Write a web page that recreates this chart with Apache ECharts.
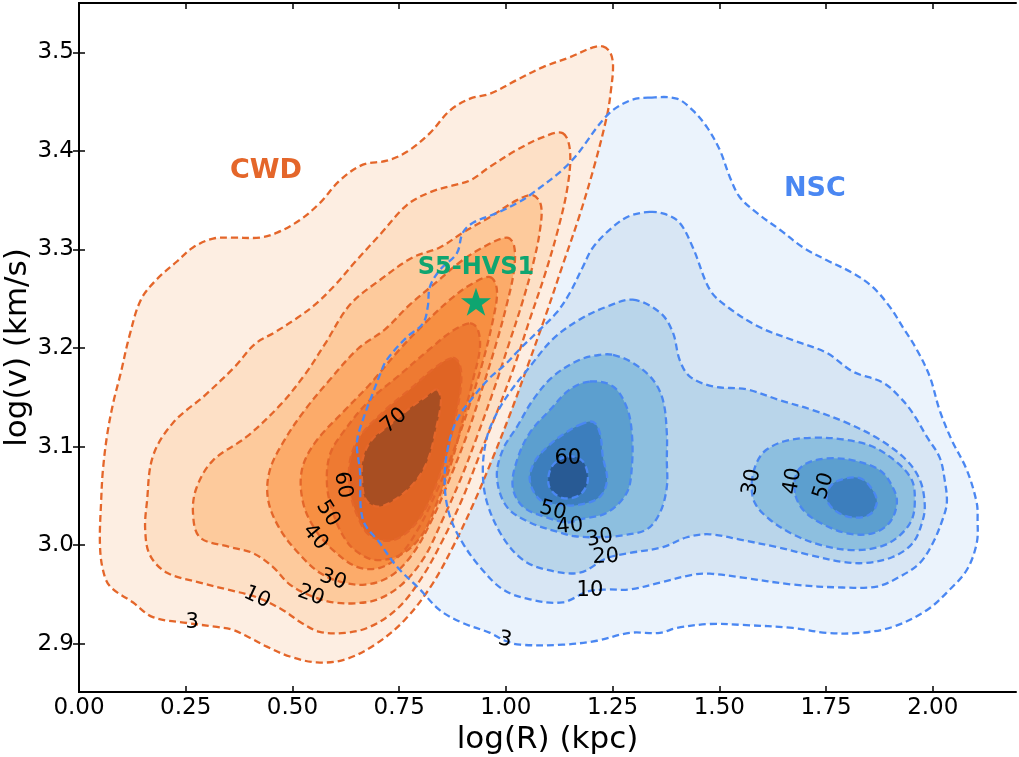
<!DOCTYPE html>
<html>
<head>
<meta charset="utf-8">
<script src="https://cdn.jsdelivr.net/npm/echarts@6/dist/echarts.min.js"></script>
<style>
html, body { margin: 0; padding: 0; background: #fff; }
#chart { width: 1019px; height: 757px; }
</style>
</head>
<body>
<div id="chart"></div>
<script>
// axis ticks
const xTicks = [0, 0.25, 0.5, 0.75, 1.0, 1.25, 1.5, 1.75, 2.0];
const yTicks = [2.9, 3.0, 3.1, 3.2, 3.3, 3.4, 3.5];

// CWD density contours, log(R) vs log(v)
const cwdLevels = ['3', '10', '20', '30', '40', '50', '60', '70'];
const cwd3 = [[1.227,3.506],[1.244,3.500],[1.251,3.487],[1.246,3.461],[1.237,3.436],[1.208,3.386],[1.173,3.335],[1.133,3.284],[1.094,3.234],[1.052,3.183],[1.009,3.132],[0.967,3.086],[0.923,3.041],[0.878,3.000],[0.827,2.960],[0.763,2.924],[0.693,2.899],[0.623,2.884],[0.557,2.881],[0.494,2.887],[0.440,2.897],[0.400,2.906],[0.361,2.914],[0.323,2.917],[0.253,2.921],[0.173,2.927],[0.126,2.942],[0.073,2.958],[0.056,2.975],[0.049,3.002],[0.052,3.046],[0.056,3.076],[0.066,3.112],[0.080,3.144],[0.098,3.175],[0.118,3.212],[0.145,3.249],[0.183,3.270],[0.230,3.288],[0.267,3.302],[0.314,3.311],[0.361,3.312],[0.424,3.312],[0.464,3.317],[0.518,3.330],[0.564,3.347],[0.611,3.370],[0.665,3.386],[0.721,3.390],[0.768,3.399],[0.822,3.418],[0.869,3.441],[0.916,3.453],[0.963,3.458],[1.026,3.472],[1.087,3.485],[1.150,3.495],[1.204,3.505]];
const cwd10 = [[1.133,3.418],[1.150,3.401],[1.145,3.365],[1.122,3.320],[1.091,3.274],[1.056,3.229],[1.021,3.183],[0.981,3.137],[0.939,3.092],[0.897,3.046],[0.852,3.005],[0.803,2.967],[0.747,2.936],[0.681,2.917],[0.623,2.911],[0.564,2.912],[0.518,2.922],[0.478,2.934],[0.417,2.947],[0.347,2.955],[0.283,2.962],[0.206,2.972],[0.166,2.990],[0.155,3.016],[0.159,3.043],[0.173,3.090],[0.220,3.124],[0.295,3.152],[0.365,3.181],[0.412,3.204],[0.459,3.216],[0.506,3.229],[0.553,3.244],[0.600,3.264],[0.646,3.287],[0.705,3.315],[0.768,3.345],[0.822,3.358],[0.876,3.365],[0.916,3.370],[0.963,3.384],[1.026,3.401],[1.087,3.414]];
const cwd20 = [[1.063,3.355],[1.082,3.345],[1.080,3.320],[1.063,3.284],[1.037,3.244],[1.007,3.204],[0.972,3.158],[0.934,3.112],[0.895,3.068],[0.852,3.026],[0.808,2.987],[0.756,2.960],[0.700,2.945],[0.646,2.941],[0.595,2.942],[0.546,2.948],[0.494,2.960],[0.454,2.978],[0.407,2.992],[0.354,2.998],[0.283,3.008],[0.267,3.033],[0.276,3.059],[0.314,3.086],[0.393,3.110],[0.471,3.142],[0.529,3.173],[0.576,3.204],[0.635,3.244],[0.705,3.269],[0.782,3.292],[0.845,3.302],[0.899,3.317],[0.963,3.333],[1.026,3.350]];
const cwd30 = [[1.002,3.312],[1.019,3.304],[1.019,3.279],[1.002,3.244],[0.977,3.204],[0.944,3.158],[0.909,3.112],[0.869,3.068],[0.827,3.026],[0.780,2.990],[0.728,2.968],[0.670,2.960],[0.611,2.963],[0.564,2.972],[0.518,2.990],[0.471,3.016],[0.443,3.046],[0.447,3.076],[0.482,3.107],[0.529,3.137],[0.588,3.168],[0.653,3.199],[0.717,3.219],[0.775,3.244],[0.838,3.267],[0.892,3.287],[0.946,3.302]];
const cwd40 = [[0.963,3.272],[0.979,3.259],[0.970,3.229],[0.944,3.183],[0.911,3.137],[0.874,3.092],[0.834,3.051],[0.794,3.016],[0.752,2.990],[0.705,2.977],[0.651,2.978],[0.595,2.995],[0.553,3.016],[0.525,3.043],[0.522,3.076],[0.553,3.104],[0.623,3.137],[0.681,3.163],[0.752,3.199],[0.810,3.225],[0.869,3.249],[0.916,3.264]];
const cwd50 = [[0.916,3.225],[0.934,3.219],[0.939,3.199],[0.923,3.168],[0.899,3.127],[0.874,3.086],[0.841,3.046],[0.803,3.010],[0.752,2.990],[0.693,2.985],[0.646,2.995],[0.618,3.010],[0.595,3.033],[0.581,3.061],[0.588,3.092],[0.623,3.117],[0.681,3.147],[0.752,3.173],[0.822,3.199],[0.874,3.217]];
const cwd60 = [[0.876,3.190],[0.892,3.183],[0.895,3.163],[0.883,3.132],[0.860,3.092],[0.827,3.051],[0.787,3.021],[0.735,3.005],[0.681,3.010],[0.651,3.031],[0.635,3.056],[0.635,3.086],[0.658,3.110],[0.717,3.137],[0.775,3.158],[0.834,3.180]];
const cwd70 = [[0.838,3.158],[0.848,3.147],[0.836,3.117],[0.817,3.086],[0.787,3.064],[0.740,3.046],[0.700,3.039],[0.672,3.046],[0.663,3.066],[0.665,3.088],[0.686,3.107],[0.728,3.122],[0.775,3.139],[0.817,3.152]];

// NSC density contours
const nscLevels = ['3', '10', '20', '30', '30', '40', '40', '50', '50', '60'];
const nsc3 = [[1.337,3.454],[1.400,3.453],[1.438,3.441],[1.471,3.424],[1.501,3.401],[1.525,3.373],[1.548,3.353],[1.588,3.337],[1.642,3.320],[1.696,3.302],[1.752,3.289],[1.813,3.276],[1.859,3.262],[1.899,3.242],[1.930,3.221],[1.963,3.198],[1.993,3.171],[2.016,3.137],[2.044,3.107],[2.080,3.076],[2.103,3.043],[2.105,3.026],[2.103,3.002],[2.080,2.975],[2.040,2.955],[1.986,2.934],[1.906,2.917],[1.829,2.911],[1.752,2.911],[1.672,2.916],[1.555,2.919],[1.478,2.920],[1.400,2.916],[1.361,2.911],[1.290,2.911],[1.213,2.903],[1.133,2.899],[1.033,2.899],[0.998,2.903],[0.963,2.911],[0.899,2.921],[0.845,2.934],[0.799,2.955],[0.745,2.978],[0.705,3.002],[0.665,3.026],[0.658,3.076],[0.651,3.104],[0.665,3.127],[0.689,3.155],[0.705,3.173],[0.721,3.188],[0.768,3.211],[0.806,3.225],[0.817,3.242],[0.822,3.262],[0.845,3.279],[0.885,3.296],[0.899,3.317],[0.923,3.327],[0.979,3.337],[1.026,3.347],[1.056,3.355],[1.150,3.388],[1.237,3.436],[1.290,3.451]];
const nsc10 = [[1.337,3.338],[1.372,3.336],[1.407,3.327],[1.438,3.302],[1.478,3.259],[1.518,3.242],[1.595,3.221],[1.672,3.208],[1.752,3.195],[1.813,3.176],[1.883,3.165],[1.923,3.150],[1.953,3.134],[1.986,3.110],[2.016,3.089],[2.028,3.066],[2.033,3.043],[2.023,3.026],[2.000,3.002],[1.970,2.982],[1.923,2.968],[1.869,2.958],[1.789,2.957],[1.672,2.960],[1.555,2.967],[1.478,2.971],[1.438,2.970],[1.361,2.962],[1.290,2.955],[1.237,2.955],[1.192,2.953],[1.133,2.942],[1.056,2.945],[0.993,2.955],[0.939,2.978],[0.899,3.002],[0.869,3.029],[0.857,3.059],[0.862,3.094],[0.885,3.127],[0.923,3.150],[0.963,3.170],[0.998,3.183],[1.033,3.199],[1.073,3.216],[1.119,3.236],[1.150,3.256],[1.180,3.282],[1.204,3.302],[1.251,3.323],[1.290,3.334]];
const nsc20 = [[1.297,3.249],[1.361,3.236],[1.391,3.216],[1.407,3.188],[1.431,3.171],[1.485,3.161],[1.564,3.158],[1.642,3.147],[1.719,3.137],[1.799,3.124],[1.876,3.107],[1.939,3.086],[1.970,3.066],[1.981,3.043],[1.977,3.026],[1.953,3.002],[1.906,2.988],[1.845,2.982],[1.789,2.983],[1.712,2.990],[1.635,2.998],[1.555,3.005],[1.478,3.011],[1.424,3.008],[1.368,2.998],[1.290,2.992],[1.237,2.987],[1.173,2.972],[1.096,2.975],[1.040,2.985],[0.993,3.008],[0.956,3.043],[0.946,3.076],[0.956,3.110],[0.979,3.134],[1.009,3.155],[1.056,3.181],[1.110,3.209],[1.173,3.229],[1.237,3.242]];
const nsc30a = [[1.251,3.193],[1.297,3.185],[1.344,3.168],[1.368,3.147],[1.377,3.114],[1.377,3.086],[1.377,3.059],[1.361,3.033],[1.330,3.016],[1.274,3.010],[1.220,3.008],[1.162,3.009],[1.133,3.012],[1.056,3.023],[1.002,3.039],[0.979,3.069],[0.993,3.097],[1.026,3.120],[1.063,3.147],[1.110,3.171],[1.173,3.188],[1.220,3.193]];
const nsc30b = [[1.576,3.063],[1.588,3.084],[1.611,3.097],[1.658,3.106],[1.724,3.109],[1.794,3.107],[1.859,3.100],[1.916,3.084],[1.951,3.066],[1.958,3.046],[1.951,3.026],[1.923,3.010],[1.881,2.999],[1.817,2.995],[1.747,2.999],[1.677,3.010],[1.618,3.026],[1.583,3.043]];
const nsc40a = [[1.197,3.166],[1.251,3.161],[1.283,3.140],[1.295,3.114],[1.295,3.079],[1.283,3.053],[1.237,3.033],[1.173,3.026],[1.145,3.023],[1.096,3.028],[1.040,3.039],[1.016,3.059],[1.026,3.086],[1.056,3.114],[1.103,3.137],[1.150,3.158]];
const nsc40b = [[1.677,3.053],[1.681,3.073],[1.705,3.083],[1.752,3.088],[1.813,3.086],[1.876,3.076],[1.906,3.059],[1.916,3.043],[1.899,3.023],[1.859,3.012],[1.799,3.012],[1.735,3.023],[1.696,3.036]];
const nsc50a = [[1.173,3.122],[1.204,3.125],[1.220,3.114],[1.227,3.090],[1.237,3.066],[1.220,3.049],[1.173,3.041],[1.126,3.041],[1.080,3.046],[1.056,3.066],[1.068,3.085],[1.098,3.100],[1.133,3.112]];
const nsc50b = [[1.752,3.046],[1.759,3.059],[1.782,3.066],[1.829,3.068],[1.859,3.056],[1.869,3.043],[1.852,3.031],[1.813,3.028],[1.775,3.034]];
const nsc60 = [[1.145,3.090],[1.180,3.085],[1.192,3.066],[1.173,3.051],[1.131,3.048],[1.101,3.060],[1.108,3.080]];

// inline contour labels
const cwdLabelText = ['3', '10', '20', '30', '40', '50', '60', '70'];
const cwdLabelPos = [[0.265,2.921],[0.417,2.947],[0.543,2.949],[0.595,2.965],[0.553,3.008],[0.583,3.032],[0.618,3.061],[0.738,3.126]];
const nscLabelText = ['3', '10', '20', '30', '40', '50', '60', '30', '40', '50'];
const nscLabelPos = [[0.998,2.904],[1.197,2.954],[1.234,2.988],[1.220,3.007],[1.150,3.019],[1.110,3.035],[1.145,3.088],[1.576,3.064],[1.672,3.065],[1.745,3.060]];

// annotations
const groupNames = ['CWD', 'NSC'];
const groupPos = [[0.438, 3.380], [1.724, 3.361]];
const starName = 'S5-HVS1';
const starPos = [0.930, 3.247];
const starNamePos = [0.930, 3.281];

const cwdRings = [cwd3, cwd10, cwd20, cwd30, cwd40, cwd50, cwd60, cwd70];
const nscRings = [nsc3, nsc10, nsc20, nsc30a, nsc30b, nsc40a, nsc40b, nsc50a, nsc50b, nsc60];

const cwdFill = ['#fdeee2', '#fde0c6', '#fdca9c', '#fcab6a', '#f78f42', '#ee7a32', '#e06424', '#a84e22'];
const nscFillByLevel = { '3': '#ebf3fc', '10': '#d8e6f4', '20': '#b9d5ea', '30': '#8dbfdf', '40': '#5c9fcf', '50': '#3c7ebd', '60': '#285a94' };
const nscFill = nscLevels.map(l => nscFillByLevel[l]);
const orange = '#e4662a';
const blue = '#4a87f2';
const green = '#0fa570';
const font = 'DejaVu Sans';

function contourSeries(rings, fills, stroke, z) {
    return {
        type: 'custom',
        coordinateSystem: 'cartesian2d',
        silent: true,
        animation: false,
        z: z,
        data: rings.map(r => r[0]),
        renderItem: function (params, api) {
            const pts = rings[params.dataIndex].map(p => api.coord(p));
            return {
                type: 'polygon',
                z2: params.dataIndex,
                shape: { points: pts, smooth: 0.35 },
                style: fills
                    ? { fill: fills[params.dataIndex], stroke: null }
                    : { fill: null, stroke: stroke, lineWidth: 2.3, lineDash: [7, 4] }
            };
        }
    };
}

// invisible points that only carry a text label
function textSeries(pos, texts, angles, colors, textStyle, z) {
    return {
        type: 'scatter',
        silent: true,
        animation: false,
        z: z,
        symbolSize: 1,
        itemStyle: { color: 'rgba(0,0,0,0)', opacity: 1 },
        data: pos.map((p, i) => ({
            value: p,
            label: { rotate: angles[i], formatter: texts[i], color: colors[i] }
        })),
        label: Object.assign({ show: true, position: 'inside', opacity: 1, fontFamily: font }, textStyle)
    };
}

const cwdAngles = [0, -25, -20, -20, -50, -58, -80, 40];
const nscAngles = [-12, 0, 3, 10, 5, -15, 0, 80, 80, 72];
const black = t => t.map(() => '#000');

const chart = echarts.init(document.getElementById('chart'));

const axisLineStyle = { show: true, lineStyle: { color: '#000', width: 2 } };
const tickStyle = { show: true, inside: true, length: 6, lineStyle: { color: '#000', width: 1.5 } };

chart.setOption({
    animation: false,
    backgroundColor: '#fff',
    grid: { left: 79, right: 3, top: 3, bottom: 65, outerBoundsMode: 'none' },
    xAxis: [{
        type: 'value', min: 0, max: 2.195, position: 'bottom',
        name: 'log(R) (kpc)', nameLocation: 'middle', nameGap: 32, nameMoveOverlap: false,
        nameTextStyle: { fontSize: 31, color: '#000', fontFamily: font },
        axisLine: axisLineStyle,
        axisTick: Object.assign({ customValues: xTicks }, tickStyle),
        axisLabel: { customValues: xTicks, formatter: v => v.toFixed(2), fontSize: 23, color: '#000', fontFamily: font, margin: 5 },
        splitLine: { show: false }
    }, {
        type: 'value', min: 0, max: 2.195, position: 'top',
        axisLine: axisLineStyle,
        axisTick: Object.assign({ customValues: xTicks }, tickStyle),
        axisLabel: { show: false },
        splitLine: { show: false }
    }],
    yAxis: [{
        type: 'value', min: 2.851, max: 3.55, position: 'left',
        name: 'log(v) (km/s)', nameLocation: 'middle', nameGap: 46, nameMoveOverlap: false,
        nameTextStyle: { fontSize: 31, color: '#000', fontFamily: font },
        axisLine: axisLineStyle,
        axisTick: Object.assign({ customValues: yTicks }, tickStyle),
        axisLabel: { customValues: yTicks, formatter: v => v.toFixed(1), fontSize: 23, color: '#000', fontFamily: font, margin: 5 },
        splitLine: { show: false }
    }, {
        type: 'value', min: 2.851, max: 3.55, position: 'right',
        axisLine: axisLineStyle,
        axisTick: Object.assign({ customValues: yTicks }, tickStyle),
        axisLabel: { show: false },
        splitLine: { show: false }
    }],
    series: [
        contourSeries(nscRings, nscFill, null, 1),
        contourSeries(cwdRings, cwdFill, null, 2),
        contourSeries(cwdRings, null, orange, 3),
        contourSeries(nscRings, null, blue, 4),
        textSeries(cwdLabelPos, cwdLabelText, cwdAngles, black(cwdLabelText), { fontSize: 21 }, 5),
        textSeries(nscLabelPos, nscLabelText, nscAngles, black(nscLabelText), { fontSize: 21 }, 5),
        textSeries(groupPos, groupNames, [0, 0], [orange, blue], { fontSize: 27, fontWeight: 'bold' }, 6),
        textSeries([starNamePos], [starName], [0], [green], { fontSize: 24, fontWeight: 'bold' }, 6),
        {
            type: 'scatter', silent: true, animation: false, z: 7,
            symbol: 'path://M50,0 L61.8,35.3 L99,35.3 L69,57.1 L80.3,92.7 L50,70.9 L19.7,92.7 L31,57.1 L1,35.3 L38.2,35.3 Z',
            symbolSize: [30, 28],
            itemStyle: { color: green, opacity: 1 },
            data: [starPos]
        }
    ]
});
</script>
</body>
</html>
